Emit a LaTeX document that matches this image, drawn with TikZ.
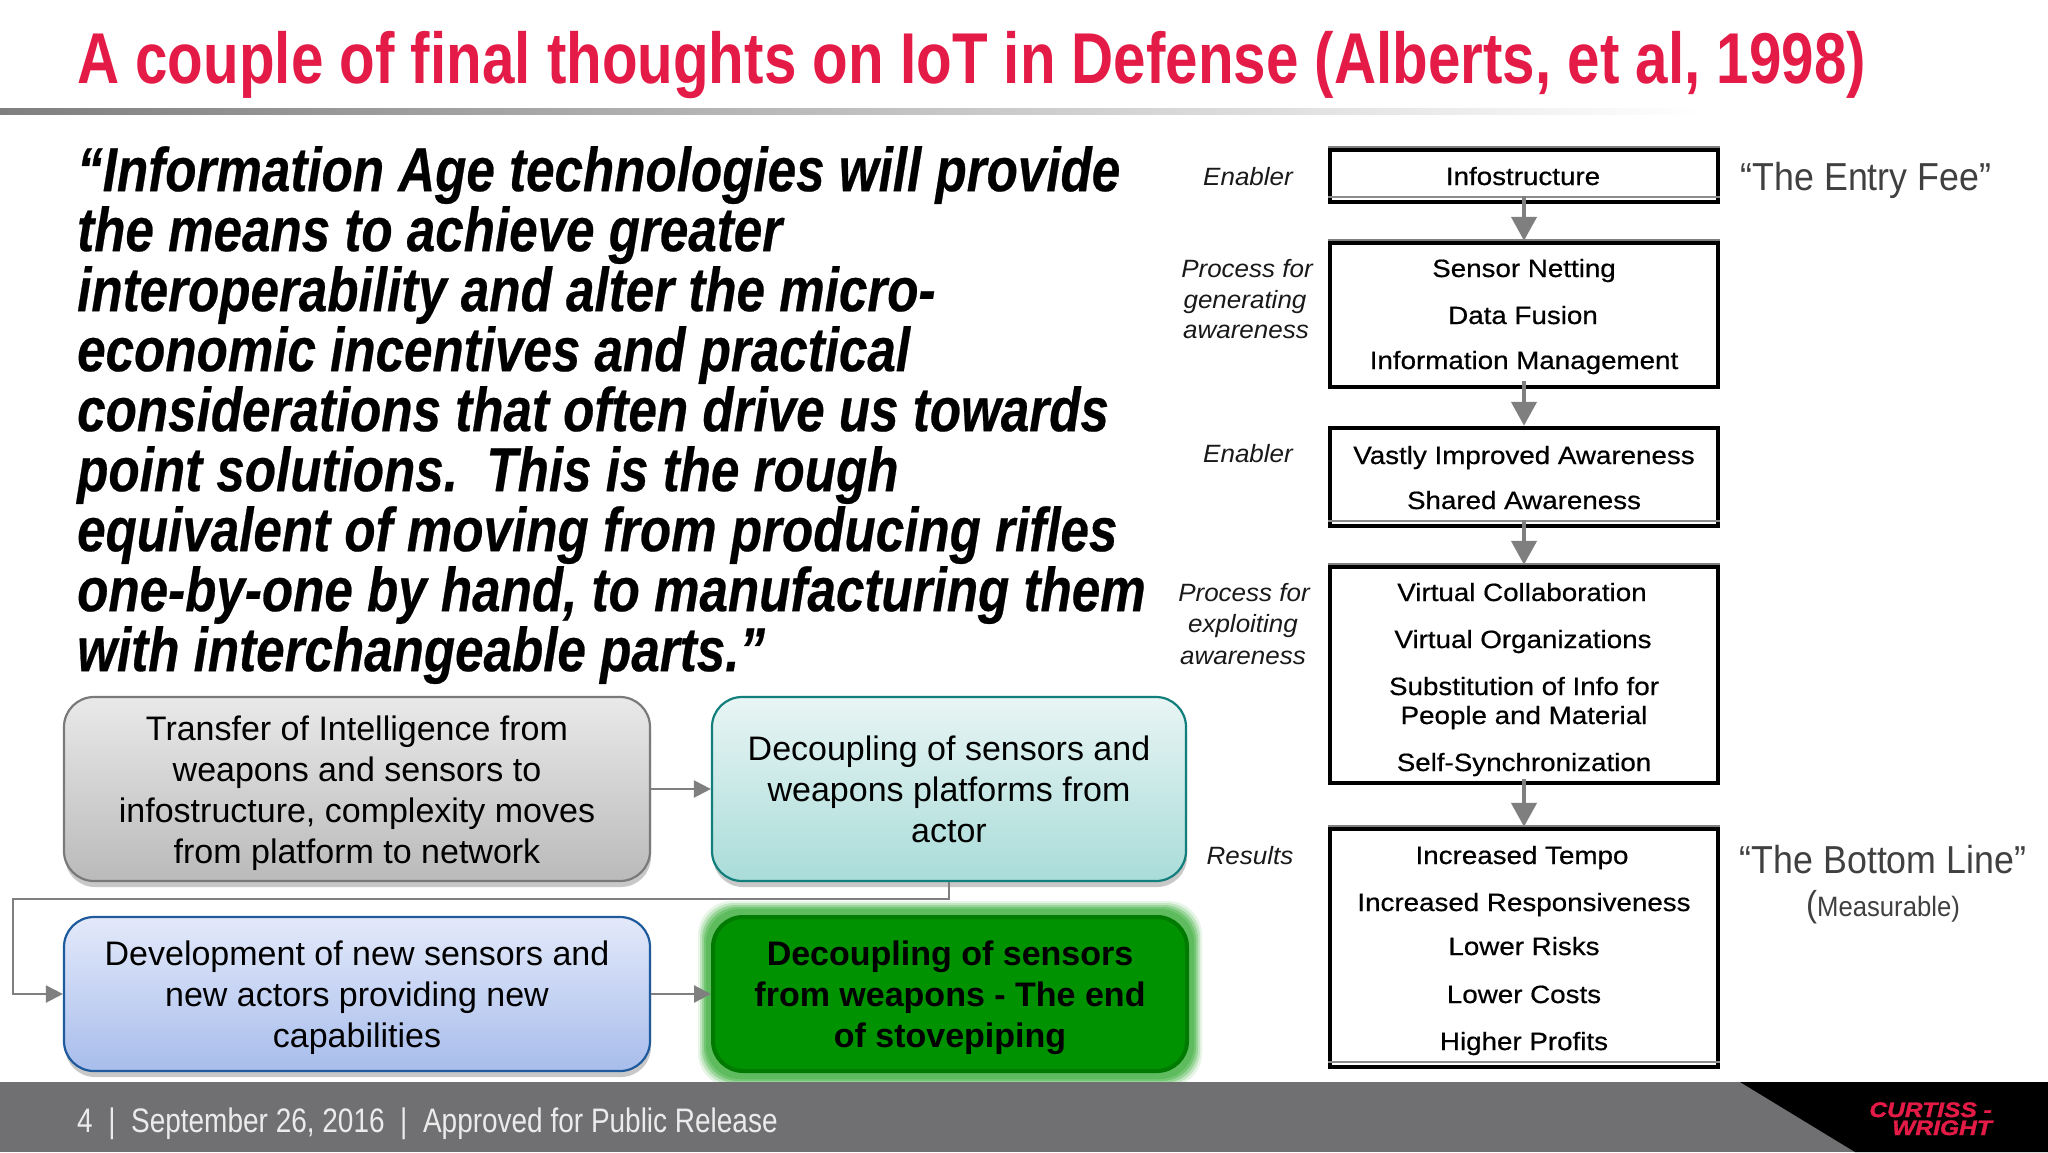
\documentclass[tikz,border=0pt]{standalone}
\usepackage{fontspec}
\usetikzlibrary{arrows.meta,shadows,calc}
\setmainfont{Liberation Sans}
\newfontfamily\titlefont[FakeStretch=0.81]{Liberation Sans}
\newfontfamily\quotefont[FakeStretch=0.825,FakeBold=0.4]{Liberation Sans}
\newfontfamily\panelfont[FakeStretch=1.11,FakeBold=0.6]{Liberation Sans}
\newfontfamily\sidefont[FakeStretch=1.04]{Liberation Sans}
\newfontfamily\quipfont[FakeStretch=0.917]{Liberation Sans}
\newfontfamily\footfont[FakeStretch=0.823]{Liberation Sans}
\newfontfamily\logofont[FakeStretch=1.17,FakeBold=1.6]{Liberation Sans}
\definecolor{crimson}{HTML}{E31B46}
\definecolor{footgrey}{HTML}{707072}
\definecolor{arrowgrey}{HTML}{7F7F7F}
\definecolor{graytop}{HTML}{E9E9E9}
\definecolor{graybot}{HTML}{BABABA}
\definecolor{grayedge}{HTML}{7A7A7A}
\definecolor{tealtop}{HTML}{E8F5F4}
\definecolor{tealbot}{HTML}{A9DCD9}
\definecolor{tealedge}{HTML}{127F7C}
\definecolor{bluetop}{HTML}{E3E9FA}
\definecolor{bluebot}{HTML}{A8BDEC}
\definecolor{blueedge}{HTML}{1E5A9C}
\definecolor{greenfill}{HTML}{009200}
\definecolor{greenedge}{HTML}{007A00}
\definecolor{greenglow}{HTML}{5CBC5C}
\newcommand{\nudgefour}{\rule{0pt}{33pt}}
\tikzset{
  flowbox/.style={rounded corners=30pt,line width=2.2pt,align=center,inner sep=0pt,
    font=\fontsize{34}{41}\selectfont,text=black},
  softshadow/.style={drop shadow={shadow xshift=1pt,shadow yshift=-6pt,opacity=.3,fill=black!70}},
  panelbox/.style={draw=black,line width=4.5pt,fill=white,inner sep=0pt,minimum width=388pt},
  paneltext/.style={anchor=base,font=\panelfont\fontsize{25}{25}\selectfont,text=black,inner sep=0pt},
  sidetext/.style={anchor=base,font=\sidefont\itshape\fontsize{25}{25}\selectfont,text=black!90,inner sep=0pt},
  quip/.style={anchor=base,font=\quipfont\fontsize{39}{39}\selectfont,text=black!75,inner sep=0pt},
  logotext/.style={anchor=base east,inner sep=0pt,text=crimson,font=\logofont\bfseries\itshape\fontsize{21}{21}\selectfont},
  panelarrow/.style={draw=arrowgrey,line width=4.5pt,-{Triangle[length=24pt,width=25pt]}},
  flowarrow/.style={draw=arrowgrey,line width=2.2pt,-{Triangle[length=17pt,width=17pt]}},
  edgeline/.style={draw=black!50,line width=1.6pt},
  innerline/.style={draw=black!45,line width=2pt}
}
\begin{document}
\begin{tikzpicture}[x=1pt,y=-1pt]
\useasboundingbox (0,0) rectangle (2048,1152);
\fill[white] (0,0) rectangle (2048,1152);

% header
\node[anchor=base west,inner sep=0pt,text=crimson,font=\titlefont\bfseries\fontsize{72}{72}\selectfont] (title) at (77,83)
  {A couple of final thoughts on IoT in Defense (Alberts, et al, 1998)};
\fill[left color=arrowgrey,middle color=arrowgrey,right color=white] (0,108) rectangle (1700,114);

% quote
\node[anchor=north west,inner sep=0pt,align=left,text=black,
  font=\quotefont\bfseries\itshape\fontsize{62}{60}\selectfont] (quote) at (77,146)
  {“Information Age technologies will provide\\
   the means to achieve greater\\
   interoperability and alter the micro-\\
   economic incentives and practical\\
   considerations that often drive us towards\\
   point solutions.\ \ This is the rough\\
   equivalent of moving from producing rifles\\
   one-by-one by hand, to manufacturing them\\
   with interchangeable parts.”};

% glow of the green box
\foreach \g/\o in {14/.15,12/.25,10/.4,8/.6,6/.9}{
  \fill[greenglow,opacity=\o,rounded corners=34pt] ($(712,915)-(\g,\g)$) rectangle ($(1188,1073)+(\g,\g)$);
}

% footer
\fill[footgrey] (0,1082) rectangle (2048,1152);
\fill[black] (1740,1082) -- (2048,1082) -- (2048,1152) -- (1855,1152) -- cycle;
\node[anchor=base west,inner sep=0pt,text=white!92!black,font=\footfont\fontsize{34}{34}\selectfont] (foot) at (77,1132)
  {4\ \ |\ \ September 26, 2016\ \ |\ \ Approved for Public Release};
\node[logotext] (logoa) at (1992,1117) {CURTISS -};
\node[logotext] (logob) at (1992,1135) {WRIGHT};

% flow boxes
\node[flowbox,softshadow,draw=grayedge,top color=graytop,bottom color=graybot,minimum width=586pt,minimum height=184pt] (grayb) at (357,789)
  {\nudgefour Transfer of Intelligence from\\weapons and sensors to\\infostructure, complexity moves\\from platform to network};
\node[flowbox,softshadow,draw=tealedge,top color=tealtop,bottom color=tealbot,minimum width=474pt,minimum height=184pt] (tealb) at (949,789)
  {Decoupling of sensors and\\weapons platforms from\\actor};
\node[flowbox,softshadow,draw=blueedge,top color=bluetop,bottom color=bluebot,minimum width=586pt,minimum height=154pt] (blueb) at (357,994)
  {\nudgefour Development of new sensors and\\new actors providing new\\capabilities};
\node[flowbox,draw=greenedge,line width=4pt,fill=greenfill,minimum width=474pt,minimum height=154pt,
  font=\bfseries\fontsize{34}{41}\selectfont] (greenb) at (950,994)
  {\nudgefour Decoupling of sensors\\from weapons - The end\\of stovepiping};

\coordinate (bend) at (13,899);
\draw[flowarrow] (grayb.east) -- (tealb.west);
\draw[flowarrow] (blueb.east) -- (greenb.west);
\draw[flowarrow] (tealb.south) -- (tealb.south |- bend) -- (bend) |- (blueb.west);

% panel boxes
\node[panelbox,minimum height=52pt] (p1) at (1524,176) {};
\node[panelbox,minimum height=144pt] (p2) at (1524,315) {};
\node[panelbox,minimum height=98pt] (p3) at (1524,477) {};
\node[panelbox,minimum height=216pt] (p4) at (1524,675) {};
\node[panelbox,minimum height=238pt] (p5) at (1524,948) {};

% grey scan edges
\draw[edgeline] ([yshift=1pt]p1.north west) -- ([yshift=1pt]p1.north east);
\draw[edgeline] ([yshift=1pt]p2.north west) -- ([yshift=1pt]p2.north east);
\draw[edgeline] ([yshift=1pt]p4.north west) -- ([yshift=1pt]p4.north east);
\draw[edgeline] ([yshift=1pt]p5.north west) -- ([yshift=1pt]p5.north east);
\draw[innerline] ([yshift=7.5pt]p1.south west) -- ([yshift=7.5pt]p1.south east);
\draw[innerline] ([yshift=7.5pt]p3.south west) -- ([yshift=7.5pt]p3.south east);
\draw[innerline] ([yshift=7.5pt]p5.south west) -- ([yshift=7.5pt]p5.south east);

% panel arrows
\draw[panelarrow] ([yshift=8pt]p1.south) -- (p2.north);
\draw[panelarrow] ([yshift=8pt]p2.south) -- (p3.north);
\draw[panelarrow] ([yshift=8pt]p3.south) -- (p4.north);
\draw[panelarrow] ([yshift=6pt]p4.south) -- (p5.north);

% panel text
\node[paneltext] (t1) at (1523,185) {Infostructure};
\node[paneltext] (t2) at (1524,277) {Sensor Netting};
\node[paneltext] (t3) at (1523,324) {Data Fusion};
\node[paneltext] (t4) at (1524,369) {Information Management};
\node[paneltext] (t5) at (1524,464) {Vastly Improved Awareness};
\node[paneltext] (t6) at (1524,509) {Shared Awareness};
\node[paneltext] (t7) at (1522,601) {Virtual Collaboration};
\node[paneltext] (t8) at (1523,648) {Virtual Organizations};
\node[paneltext] (t9) at (1524,695) {Substitution of Info for};
\node[paneltext] (t10) at (1524,724) {People and Material};
\node[paneltext] (t11) at (1524,771) {Self-Synchronization};
\node[paneltext] (t12) at (1522,864) {Increased Tempo};
\node[paneltext] (t13) at (1524,911) {Increased Responsiveness};
\node[paneltext] (t14) at (1524,955) {Lower Risks};
\node[paneltext] (t15) at (1524,1003) {Lower Costs};
\node[paneltext] (t16) at (1524,1050) {Higher Profits};

% side labels
\node[sidetext] (s1) at (1248,185) {Enabler};
\node[sidetext] (s2) at (1247,277) {Process for};
\node[sidetext] (s3) at (1245,308) {generating};
\node[sidetext] (s4) at (1246,338) {awareness};
\node[sidetext] (s5) at (1248,462) {Enabler};
\node[sidetext] (s6) at (1244,601) {Process for};
\node[sidetext] (s7) at (1243,632) {exploiting};
\node[sidetext] (s8) at (1243,664) {awareness};
\node[sidetext] (s9) at (1250,864) {Results};

% quips
\node[quip] (q1) at (1866,190) {“The Entry Fee”};
\node[quip] (q2) at (1883,873) {“The Bottom Line”};
\node[anchor=base,inner sep=0pt,text=black!75] (q3) at (1883,916)
  {\quipfont\fontsize{36}{36}\selectfont(\fontsize{28}{28}\selectfont Measurable)};
\end{tikzpicture}
\end{document}
